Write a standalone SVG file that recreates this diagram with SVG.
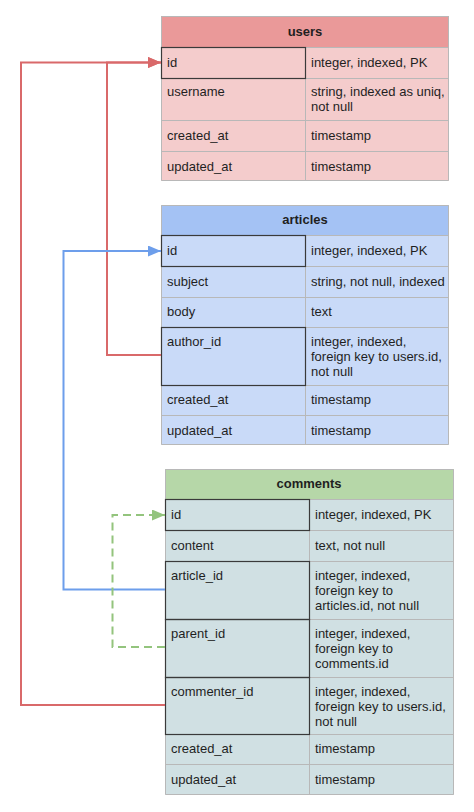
<svg xmlns="http://www.w3.org/2000/svg" width="474" height="812" viewBox="0 0 474 812">
<style>
text{font-family:"Liberation Sans",Arial,sans-serif;font-size:13px;fill:#1f1f1f}
.h{font-weight:bold;text-anchor:middle}
.grid{stroke:#b8b8b8;stroke-width:1;fill:none}
.key{fill:none;stroke:#3a3a3a;stroke-width:1.2}
.conn{fill:none;stroke-width:2}
</style>
<defs>
<marker id="ar" markerUnits="userSpaceOnUse" markerWidth="13" markerHeight="11" refX="13" refY="5.5" orient="auto"><path d="M0,0 L13,5.5 L0,11 z" fill="#D9696A"/></marker>
<marker id="ab" markerUnits="userSpaceOnUse" markerWidth="13" markerHeight="11" refX="13" refY="5.5" orient="auto"><path d="M0,0 L13,5.5 L0,11 z" fill="#6D9EEB"/></marker>
<marker id="ag" markerUnits="userSpaceOnUse" markerWidth="13" markerHeight="11" refX="13" refY="5.5" orient="auto"><path d="M0,0 L13,5.5 L0,11 z" fill="#93C47D"/></marker>
</defs>
<rect width="474" height="812" fill="#ffffff"/>

<g id="users">
<rect x="161" y="16" width="288" height="31" fill="#EA9999"/>
<rect x="161" y="47" width="288" height="134" fill="#F4CCCC"/>
<path class="grid" d="M161.5,16.5 H448.5 V180.5 H161.5 Z M161,47.5 H449 M161,78.5 H449 M161,120.5 H449 M161,151.5 H449 M305.5,47 V181"/>
<rect class="key" x="161.5" y="47.5" width="144" height="31"/>
<text class="h" x="305" y="36">users</text>
<text x="167" y="67">id</text><text x="311" y="67">integer, indexed, PK</text>
<text x="167" y="96">username</text><text x="311" y="96">string, indexed as uniq,</text><text x="311" y="111">not null</text>
<text x="167" y="140">created_at</text><text x="311" y="140">timestamp</text>
<text x="167" y="171">updated_at</text><text x="311" y="171">timestamp</text>
</g>

<g id="articles">
<rect x="161" y="205" width="288" height="30" fill="#A4C2F4"/>
<rect x="161" y="235" width="288" height="210" fill="#C9DAF8"/>
<path class="grid" d="M161.5,205.5 H448.5 V444.5 H161.5 Z M161,235.5 H449 M161,266.5 H449 M161,297.5 H449 M161,327.5 H449 M161,385.5 H449 M161,415.5 H449 M305.5,235 V445"/>
<rect class="key" x="161.5" y="235.5" width="144" height="31"/>
<rect class="key" x="161.5" y="327.5" width="144" height="58"/>
<text class="h" x="305" y="224">articles</text>
<text x="167" y="255">id</text><text x="311" y="255">integer, indexed, PK</text>
<text x="167" y="286">subject</text><text x="311" y="286">string, not null, indexed</text>
<text x="167" y="316">body</text><text x="311" y="316">text</text>
<text x="167" y="346">author_id</text><text x="311" y="346">integer, indexed,</text><text x="311" y="361">foreign key to users.id,</text><text x="311" y="376">not null</text>
<text x="167" y="404">created_at</text><text x="311" y="404">timestamp</text>
<text x="167" y="435">updated_at</text><text x="311" y="435">timestamp</text>
</g>

<g id="comments">
<rect x="165" y="469" width="289" height="30" fill="#B6D7A8"/>
<rect x="165" y="499" width="289" height="296" fill="#D0E0E3"/>
<path class="grid" d="M165.5,469.5 H453.5 V794.5 H165.5 Z M165,499.5 H454 M165,530.5 H454 M165,561.5 H454 M165,619.5 H454 M165,677.5 H454 M165,734.5 H454 M165,764.5 H454 M309.5,499 V795"/>
<rect class="key" x="165.5" y="499.5" width="144" height="31"/>
<rect class="key" x="165.5" y="561.5" width="144" height="58"/>
<rect class="key" x="165.5" y="619.5" width="144" height="58"/>
<rect class="key" x="165.5" y="677.5" width="144" height="57"/>
<text class="h" x="309" y="488">comments</text>
<text x="171" y="519">id</text><text x="315" y="519">integer, indexed, PK</text>
<text x="171" y="550">content</text><text x="315" y="550">text, not null</text>
<text x="171" y="580">article_id</text><text x="315" y="580">integer, indexed,</text><text x="315" y="595">foreign key to</text><text x="315" y="610">articles.id, not null</text>
<text x="171" y="638">parent_id</text><text x="315" y="638">integer, indexed,</text><text x="315" y="653">foreign key to</text><text x="315" y="668">comments.id</text>
<text x="171" y="696">commenter_id</text><text x="315" y="696">integer, indexed,</text><text x="315" y="711">foreign key to users.id,</text><text x="315" y="726">not null</text>
<text x="171" y="753">created_at</text><text x="315" y="753">timestamp</text>
<text x="171" y="784">updated_at</text><text x="315" y="784">timestamp</text>
</g>

<g id="connectors">
<path class="conn" stroke="#D9696A" d="M161,355 H107 V62.5 H161" marker-end="url(#ar)"/>
<path class="conn" stroke="#D9696A" d="M165,705 H21 V62.5 H161" marker-end="url(#ar)"/>
<path class="conn" stroke="#6D9EEB" d="M165,589.5 H63.5 V251 H161" marker-end="url(#ab)"/>
<path class="conn" stroke="#93C47D" stroke-dasharray="8 5" d="M165,647 H112.5 V515 H165" marker-end="url(#ag)"/>
</g>
</svg>
